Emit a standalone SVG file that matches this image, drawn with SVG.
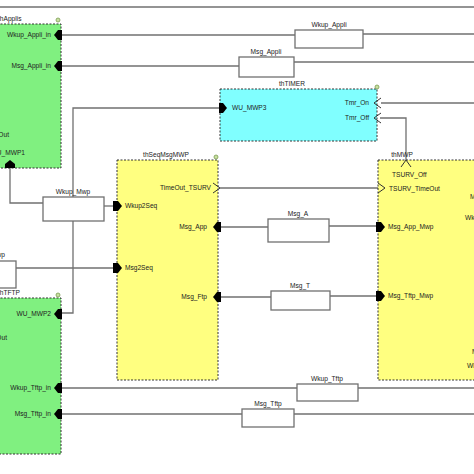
<svg xmlns="http://www.w3.org/2000/svg" width="474" height="474" viewBox="0 0 474 474">
<style>
.blk{stroke:#333;stroke-width:1;stroke-dasharray:2,1.5}
.g{fill:#80f080}.y{fill:#ffff80}.c{fill:#80ffff}
.ln{fill:none;stroke:#707070;stroke-width:1.3}
.bx{fill:#fff;stroke:#707070;stroke-width:1.3}
.t{font-family:"Liberation Sans",Arial,sans-serif;font-size:6.6px;fill:#222}
.e{text-anchor:end}.m{text-anchor:middle}
.pa{fill:#000}
.ch{fill:none;stroke:#333;stroke-width:1}
.ic{fill:#c8e0a0;stroke:#7a9a50;stroke-width:0.8}
</style>
<rect width="474" height="474" fill="#fff"/>
<g id="connectors">
<line class="ln" x1="0" y1="7" x2="474" y2="7"/>
<polyline class="ln" points="62,35 295,35"/>
<polyline class="ln" points="363,34 474,34"/>
<polyline class="ln" points="62,66 239,66"/>
<polyline class="ln" points="294,62 474,62"/>
<polyline class="ln" points="73,197 73,108 222,108"/>
<polyline class="ln" points="73,221 73,313 62,313"/>
<polyline class="ln" points="43,203 10,203 10,168"/>
<polyline class="ln" points="104,206 117,206"/>
<polyline class="ln" points="16,268 117,268"/>
<polyline class="ln" points="220,188 380,188"/>
<polyline class="ln" points="218,227 268,227"/>
<polyline class="ln" points="329,226 378,226"/>
<polyline class="ln" points="218,297 271,297"/>
<polyline class="ln" points="330,296 378,296"/>
<polyline class="ln" points="381,103 474,103"/>
<polyline class="ln" points="380,118 406,118 406,160"/>
<polyline class="ln" points="62,388 297,388"/>
<polyline class="ln" points="358,388 474,388"/>
<polyline class="ln" points="62,414 242,414"/>
<polyline class="ln" points="294,414 474,414"/>
<rect class="bx" x="295" y="30" width="68" height="18"/>
<text class="t m" x="329" y="27">Wkup_Appli</text>
<rect class="bx" x="239" y="57" width="55" height="20"/>
<text class="t m" x="266" y="54">Msg_Appli</text>
<rect class="bx" x="43" y="197" width="61" height="24"/>
<text class="t m" x="73" y="194">Wkup_Mwp</text>
<rect class="bx" x="-10" y="261" width="26" height="27"/>
<text class="t e" x="5" y="257">Msg_Mwp</text>
<rect class="bx" x="268" y="219" width="61" height="23"/>
<text class="t m" x="298" y="216">Msg_A</text>
<rect class="bx" x="271" y="291" width="59" height="19"/>
<text class="t m" x="300" y="288">Msg_T</text>
<rect class="bx" x="297" y="384" width="61" height="17"/>
<text class="t m" x="327" y="381">Wkup_Tftp</text>
<rect class="bx" x="242" y="409" width="52" height="18"/>
<text class="t m" x="268" y="406">Msg_Tftp</text>
</g>
<g id="thApplis">
<rect class="blk g" x="-10" y="24" width="71" height="144"/>
<text class="t" x="-2" y="21">thApplis</text>
<circle class="ic" cx="58" cy="20" r="2"/>
<text class="t e" x="51" y="37">Wkup_Appli_in</text>
<path class="pa" d="M54,35 L58,30 L62,30 L62,40 L58,40 Z"/>
<text class="t e" x="51" y="68">Msg_Appli_in</text>
<path class="pa" d="M54,66 L58,61 L62,61 L62,71 L58,71 Z"/>
<text class="t e" x="9" y="137">TimeOut</text>
<text class="t e" x="25" y="155">WU_MWP1</text>
<path class="pa" d="M10,160 L15,164 L15,168 L5,168 L5,164 Z"/>
</g>
<g id="thTFTP">
<rect class="blk g" x="-10" y="298" width="71" height="156"/>
<text class="t" x="-2" y="295">thTFTP</text>
<circle class="ic" cx="58" cy="295" r="2"/>
<text class="t e" x="51" y="316">WU_MWP2</text>
<path class="pa" d="M54,314 L58,309 L62,309 L62,319 L58,319 Z"/>
<text class="t e" x="7" y="340">TimeOut</text>
<text class="t e" x="51" y="390">Wkup_Tftp_in</text>
<path class="pa" d="M54,388 L58,383 L62,383 L62,393 L58,393 Z"/>
<text class="t e" x="51" y="416">Msg_Tftp_in</text>
<path class="pa" d="M54,414 L58,409 L62,409 L62,419 L58,419 Z"/>
</g>
<g id="thTIMER">
<rect class="blk c" x="220" y="89" width="157" height="52"/>
<text class="t m" x="292" y="86">thTIMER</text>
<circle class="ic" cx="377" cy="87" r="2"/>
<path class="pa" d="M227,108 L223,103 L219,103 L219,113 L223,113 Z"/>
<text class="t" x="232" y="110">WU_MWP3</text>
<text class="t e" x="369" y="105">Tmr_On</text>
<polyline class="ch" points="381,98 374,103 381,108"/>
<text class="t e" x="369" y="120">Tmr_Off</text>
<polyline class="ch" points="381,113 374,118 381,123"/>
</g>
<g id="thSeqMsgMWP">
<rect class="blk y" x="117" y="160" width="101" height="220"/>
<text class="t m" x="166" y="157">thSeqMsgMWP</text>
<circle class="ic" cx="216" cy="157" r="2"/>
<path class="pa" d="M122,206 L118,201 L113,201 L113,211 L118,211 Z"/>
<text class="t" x="125" y="208">Wkup2Seq</text>
<path class="pa" d="M122,268 L118,263 L113,263 L113,273 L118,273 Z"/>
<text class="t" x="125" y="270">Msg2Seq</text>
<text class="t e" x="211" y="190">TimeOut_TSURV</text>
<polyline class="ch" points="213,183 220,188 213,193"/>
<text class="t e" x="207" y="229">Msg_App</text>
<path class="pa" d="M213,227 L217,222 L221,222 L221,232 L217,232 Z"/>
<text class="t e" x="207" y="299">Msg_Ftp</text>
<path class="pa" d="M213,297 L217,292 L221,292 L221,302 L217,302 Z"/>
</g>
<g id="thMWP">
<rect class="blk y" x="378" y="160" width="110" height="220"/>
<text class="t m" x="402" y="157">thMWP</text>
<polyline class="ch" points="401,167 406,160 411,167"/>
<text class="t" x="392" y="177">TSURV_Off</text>
<polyline class="ch" points="378,183 385,188 378,193"/>
<text class="t" x="389" y="191">TSURV_TimeOut</text>
<path class="pa" d="M385,227 L381,222 L376,222 L376,232 L381,232 Z"/>
<text class="t" x="388" y="229">Msg_App_Mwp</text>
<path class="pa" d="M385,296 L381,291 L376,291 L376,301 L381,301 Z"/>
<text class="t" x="388" y="298">Msg_Tftp_Mwp</text>
<text class="t" x="470" y="199">Msg_Appli</text>
<text class="t" x="465" y="220">Wkup_Appli</text>
<text class="t" x="472" y="354">Msg_Tftp</text>
<text class="t" x="467" y="368">Wkup_Tftp</text>
</g>
</svg>
